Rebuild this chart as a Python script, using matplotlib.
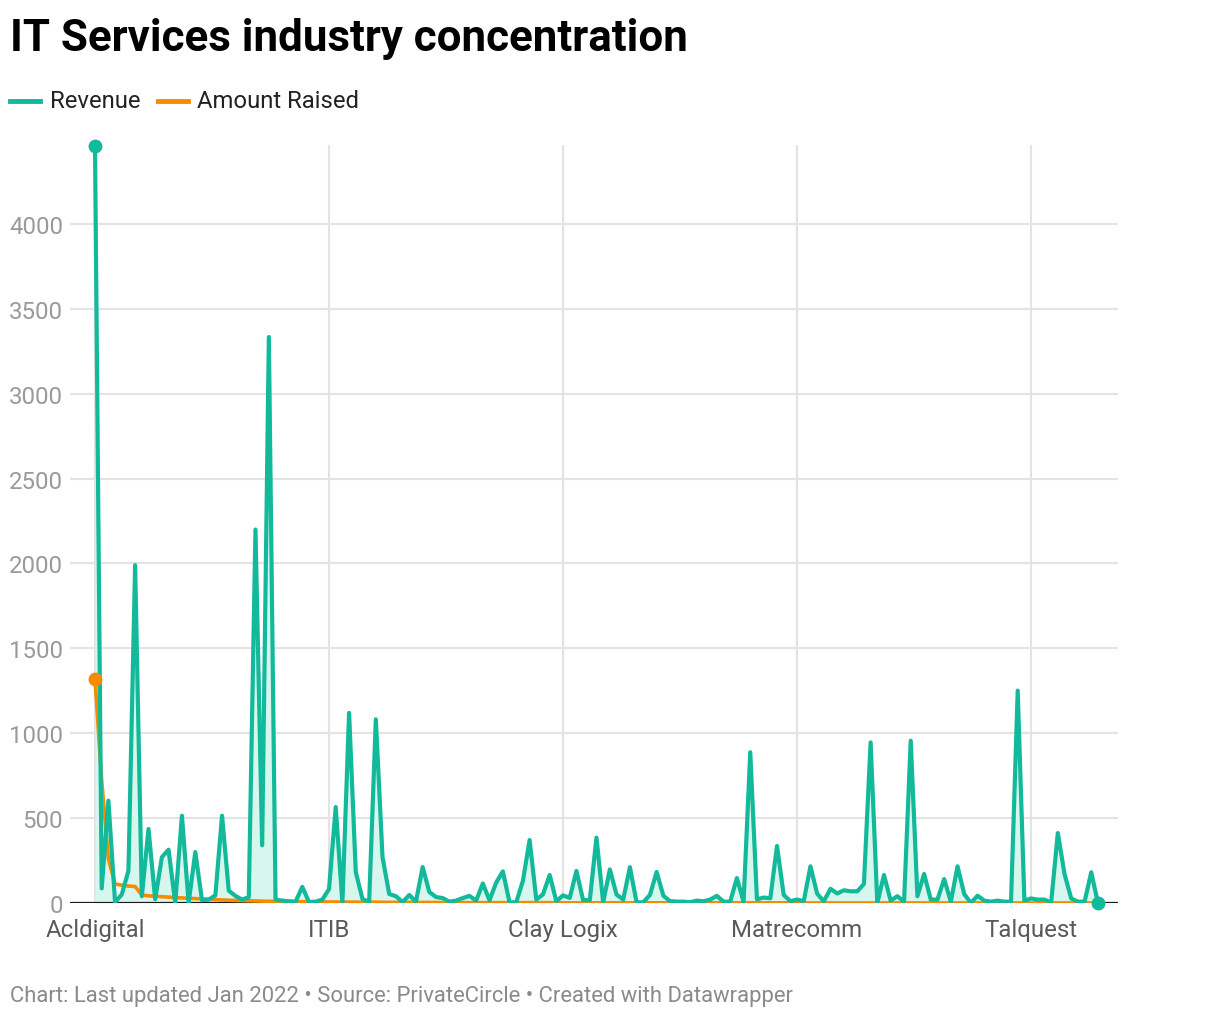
import matplotlib
matplotlib.use("Agg")
import matplotlib.pyplot as plt
from matplotlib.lines import Line2D

plt.rcParams['font.family'] = ['Roboto', 'DejaVu Sans']

# revenue per company, sorted by amount raised (151 companies)
revenue = [4460, 86, 603, 5, 50, 190, 1990, 40, 436, 22,
           270, 314, 0, 514, 0, 300, 17, 20, 45, 514,
           73, 42, 20, 34, 2200, 340, 3334, 20, 14, 10,
           8, 95, 6, 8, 20, 82, 565, 2, 1120, 182,
           24, 5, 1082, 270, 53, 40, 5, 47, 8, 212,
           65, 35, 29, 8, 14, 29, 42, 14, 115, 16,
           120, 186, 4, 4, 131, 371, 20, 51, 165, 10,
           45, 30, 189, 17, 17, 385, 4, 198, 50, 20,
           211, 4, 4, 48, 183, 43, 11, 8, 8, 5,
           14, 10, 20, 42, 8, 8, 147, 8, 888, 22,
           32, 28, 336, 48, 11, 20, 11, 216, 55, 10,
           84, 56, 75, 69, 69, 112, 946, 0, 165, 14,
           40, 8, 956, 40, 171, 20, 20, 141, 8, 216,
           53, 0, 43, 14, 8, 14, 8, 8, 1251, 14,
           27, 20, 20, 3, 412, 171, 27, 8, 8, 181,
           0]

amount_raised = [1320, 720, 260, 112, 105, 100, 97, 47, 42, 40,
                 37, 35, 32, 30, 28, 26, 24, 22, 20, 18,
                 16, 15, 14, 13, 12, 11, 10, 10, 9, 9,
                 8, 8, 7, 7, 7, 6, 6, 6, 5, 5,
                 5, 5, 5, 4, 4, 4, 4, 4, 3, 3,
                 3, 3, 3, 3, 3, 3, 2, 2, 2, 2,
                 2, 2, 2, 2, 2, 2, 2, 2, 2, 2,
                 1, 1, 1, 1, 1, 1, 1, 1, 1, 1,
                 1, 1, 1, 1, 1, 1, 1, 1, 1, 1,
                 1, 1, 1, 1, 1, 1, 1, 1, 1, 1,
                 1, 1, 1, 1, 1, 0, 0, 0, 0, 0,
                 0, 0, 0, 0, 0, 0, 0, 0, 0, 0,
                 0, 0, 0, 0, 0, 0, 0, 0, 0, 0,
                 0, 0, 0, 0, 0, 0, 0, 0, 0, 0,
                 0, 0, 0, 0, 0, 0, 0, 0, 0, 0,
                 0]

tick_labels = ['Acldigital', 'ITIB', 'Clay Logix', 'Matrecomm', 'Talquest']
tick_step = 35
y_ticks = [0, 500, 1000, 1500, 2000, 2500, 3000, 3500, 4000]

GREEN = '#12b99a'
FILL = '#d7f7ee'
ORANGE = '#f78b00'
GRID = '#e3e3e3'

W, H = 1220, 1020
fig = plt.figure(figsize=(W / 100, H / 100), dpi=100)
ax = fig.add_axes([70 / W, 1 - 904 / H, 1048 / W, (904 - 146) / H])

x = list(range(len(revenue)))
ax.fill_between(x, revenue, 0, color=FILL, lw=0, zorder=1)
ax.axhline(0, color='#1a1a1a', lw=1.6, zorder=2)
ax.plot(x, amount_raised, color=ORANGE, lw=2.6, zorder=3, solid_joinstyle='round')
ax.plot(x, revenue, color=GREEN, lw=3.0, zorder=4, solid_joinstyle='round')
ax.plot([x[0]], [amount_raised[0]], 'o', color=ORANGE, ms=9, zorder=5, clip_on=False)
ax.plot([x[0], x[-1]], [revenue[0], revenue[-1]], 'o', color=GREEN, ms=9,
        zorder=5, clip_on=False)

ax.set_xlim(-3.74, 153.0)
ax.set_ylim(0, 4465)
ax.set_xticks(range(0, tick_step * len(tick_labels), tick_step))
ax.set_xticklabels(tick_labels, fontsize=17.3, color='#5a5a5a')
ax.set_yticks(y_ticks)
ax.set_yticklabels([str(v) for v in y_ticks], fontsize=17.3, color='#9a9a9a')
ax.tick_params(axis='both', length=0)
ax.tick_params(axis='x', pad=11)
ax.tick_params(axis='y', pad=5)
ax.grid(True, color=GRID, lw=1.5, zorder=0)
ax.set_axisbelow(True)
for s in ax.spines.values():
    s.set_visible(False)

fig.text(10 / W, 1 - 51 / H, 'IT Services industry concentration',
         fontsize=31.6, fontweight='bold', color='#000000', va='baseline')

# legend
ly = 1 - 102 / H
fig.add_artist(Line2D([10 / W, 40 / W], [ly, ly], color=GREEN, lw=3.5))
fig.text(50 / W, ly, 'Revenue', fontsize=17.2, color='#222222', va='center')
fig.add_artist(Line2D([158 / W, 188 / W], [ly, ly], color=ORANGE, lw=3.5))
fig.text(197 / W, ly, 'Amount Raised', fontsize=17.2, color='#222222', va='center')

fig.text(10 / W, 1 - 997 / H,
         'Chart: Last updated Jan 2022 \u2022 Source: PrivateCircle \u2022 Created with Datawrapper',
         fontsize=15.8, color='#8a8a8a', va='center')

fig.savefig('out.png', dpi=100, facecolor='white')
